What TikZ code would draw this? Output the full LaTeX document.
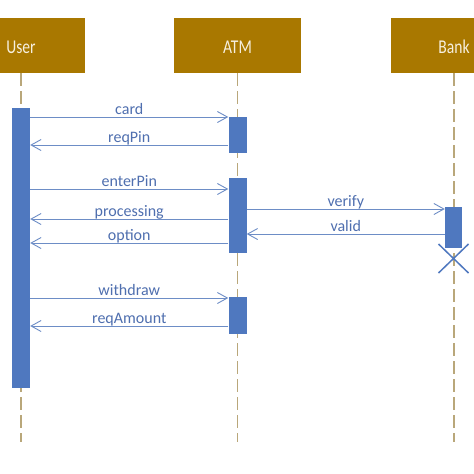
\documentclass[tikz,border=0pt]{standalone}
\usepackage{fontspec}
\setmainfont{Carlito}
\newfontfamily\hdrfont[FakeStretch=0.8]{Carlito}
\usetikzlibrary{arrows.meta,calc}
\definecolor{hdr}{HTML}{A97800}
\definecolor{hdrtxt}{HTML}{F6EFDF}
\definecolor{life}{HTML}{B9A77A}
\definecolor{act}{HTML}{4F78BF}
\definecolor{msgc}{HTML}{6D8DC6}
\definecolor{msgt}{HTML}{4F6FAF}
\tikzset{
  header/.style={fill=hdr, draw=none, minimum width=127pt, minimum height=55pt, inner sep=0pt, text=hdrtxt, font=\hdrfont\fontsize{19.5}{21}\selectfont, text height=16.6pt, text depth=0pt},
  lifeline/.style={draw=life, line width=1.2pt, dash pattern=on 13pt off 5pt},
  actbox/.style={fill=act, draw=none, inner sep=0pt, minimum width=18pt},
  msg/.style={draw=msgc, line width=0.9pt, -{Straight Barb[length=10pt, width=11pt, line width=0.9pt]}},
  lbl/.style={text=msgt, font=\fontsize{16}{18}\selectfont, inner sep=0pt, anchor=base, yshift=3pt},
  cross/.style={draw=act, line width=1.5pt}
}
\begin{document}
\begin{tikzpicture}[x=1pt, y=-1pt]
\useasboundingbox (0,0) rectangle (474,474);
\clip (0,0) rectangle (474,474);
\fill[white] (0,0) rectangle (474,474);
% headers
\node[header] (user) at (21,45.5) {User};
\node[header] (atm) at (237.5,45.5) {ATM};
\node[header] (bank) at (454,45.5) {Bank};
% lifeline ends
\coordinate (uend) at (21,442);
\coordinate (aend) at (237.5,442);
\coordinate (bend) at (454,442);
\draw[lifeline] (user.south) -- (uend);
\draw[lifeline] (atm.south) -- (aend);
\draw[lifeline] (bank.south) -- (bend);
% activations
\node[actbox, minimum height=280pt] (ua) at (21,248) {};
\node[actbox, minimum height=36pt] (a1) at (237.5,135) {};
\node[actbox, minimum height=75pt] (a2) at (237.5,215.5) {};
\node[actbox, minimum height=37pt] (a3) at (237.5,315.5) {};
\node[actbox, minimum width=17pt, minimum height=41pt] (b1) at (453.5,227.5) {};
% destruction
\coordinate (xc) at (453.5,258.5);
\draw[cross] ($(xc)+(-15,-14.5)$) -- ($(xc)+(15,14.5)$);
\draw[cross] ($(xc)+(-15,14.5)$) -- ($(xc)+(15,-14.5)$);
% messages
\draw[msg] (ua.east |- 0,117) -- node[lbl] {card} (a1.west |- 0,117);
\draw[msg] (a1.west |- 0,145) -- node[lbl] {reqPin} (ua.east |- 0,145);
\draw[msg] (ua.east |- 0,189) -- node[lbl] {enterPin} (a2.west |- 0,189);
\draw[msg] (a2.west |- 0,219) -- node[lbl] {processing} (ua.east |- 0,219);
\draw[msg] (a2.west |- 0,243) -- node[lbl] {option} (ua.east |- 0,243);
\draw[msg] (ua.east |- 0,298) -- node[lbl] {withdraw} (a3.west |- 0,298);
\draw[msg] (a3.west |- 0,326) -- node[lbl] {reqAmount} (ua.east |- 0,326);
\draw[msg] (a2.east |- 0,209) -- node[lbl] {verify} (b1.west |- 0,209);
\draw[msg] (b1.west |- 0,234) -- node[lbl] {valid} (a2.east |- 0,234);
\end{tikzpicture}
\end{document}
